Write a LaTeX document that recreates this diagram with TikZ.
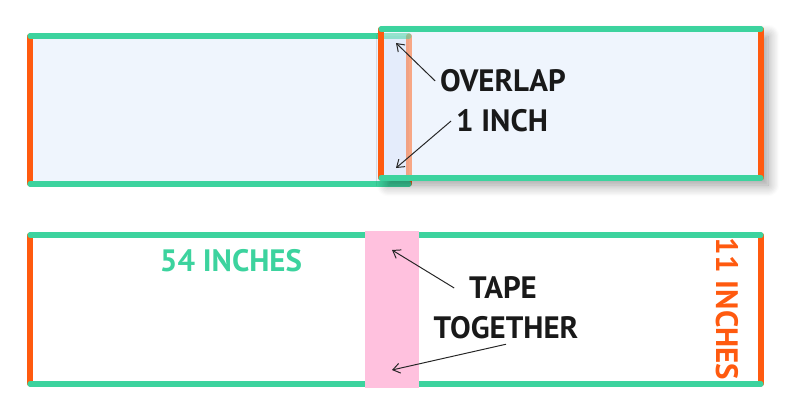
\documentclass[tikz,border=0pt]{standalone}
\usepackage{fontspec}
\setmainfont{PT Sans}
\usetikzlibrary{arrows.meta,shadows.blur}
\definecolor{stripgreen}{HTML}{3CD39E}
\definecolor{striporange}{HTML}{FF5A0F}
\definecolor{tapepink}{HTML}{FFC1DE}
\definecolor{paperblue}{HTML}{EFF5FD}
\definecolor{overlapblue}{HTML}{E4ECFB}
\tikzset{
  edge/.style={line width=3.6pt, line cap=round},
  long edge/.style={edge, stripgreen},
  short edge/.style={edge, striporange},
  caption/.style={font=\bfseries\fontsize{22}{24}\selectfont, text=black!90},
  pointer/.style={->, line width=0.7pt, black!85},
}
\begin{document}
\begin{tikzpicture}[x=0.025cm, y=-0.025cm, >={Straight Barb[length=5pt, width=7pt]}]
\useasboundingbox (0,0) rectangle (800,413);
% top strips
\fill[paperblue] (30,36) rectangle (409,184);
\draw[short edge] (30,36) -- (30,184) (409,36) -- (409,184);
\draw[long edge] (30,36) -- (409,36) (30,184) -- (409,184);
\fill[paperblue, blur shadow={shadow xshift=5pt, shadow yshift=-5pt, shadow blur radius=8pt, shadow blur steps=10, shadow opacity=40}] (381,29) rectangle (761,178);
\fill[overlapblue] (384,36) rectangle (409,178);
\draw[short edge, opacity=0.5] (409,36) -- (409,178);
\draw[long edge, opacity=0.5] (384,36) -- (409,36);
\draw[short edge] (381,29) -- (381,178) (761,29) -- (761,178);
\draw[long edge] (381,29) -- (761,29) (381,178) -- (761,178);
% bottom strip
\draw[short edge] (30,235) -- (30,384) (761,235) -- (761,384);
\draw[long edge] (30,235) -- (761,235) (30,384) -- (761,384);
\fill[tapepink] (365,231) rectangle (419,388);
% labels
\node[caption] (overlap) at (503,81) {OVERLAP};
\node[caption] (inch) at (502,121) {1 INCH};
\node[caption, text=stripgreen] (width) at (231,261) {54 INCHES};
\node[caption] (tape) at (503,288) {TAPE};
\node[caption] (together) at (506,328) {TOGETHER};
\node[caption, text=striporange, rotate=-90] (height) at (727,309) {11 INCHES};
% arrows
\coordinate (overlaptop) at (396,43);
\coordinate (overlapbot) at (396,168);
\coordinate (tapetop) at (392,250);
\coordinate (tapebot) at (392,370);
\draw[pointer] (overlap.west) -- (overlaptop);
\draw[pointer] (inch.west) -- (overlapbot);
\draw[pointer] ([xshift=-0.25cm]tape.west) -- (tapetop);
\draw[pointer] (together.south) -- (tapebot);
\end{tikzpicture}
\end{document}
